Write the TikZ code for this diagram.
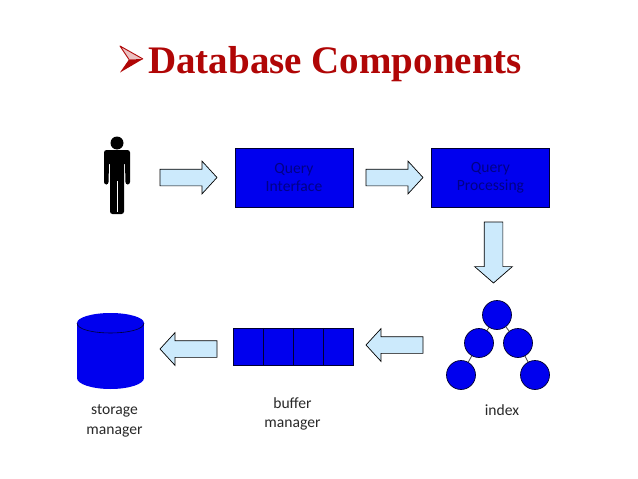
\documentclass[tikz,border=0pt]{standalone}
\usepackage{fontspec}
\setmainfont{Carlito}
\newfontfamily\titlefont{Liberation Serif}
\usetikzlibrary{shapes.arrows,shapes.geometric}
\definecolor{blockblue}{RGB}{0,0,238}
\definecolor{edgenavy}{RGB}{0,0,50}
\definecolor{arrowfill}{RGB}{204,234,252}
\definecolor{titlered}{RGB}{176,6,6}
\definecolor{labelgrey}{RGB}{40,40,40}
\definecolor{dimtext}{RGB}{0,0,135}
\tikzset{
  blockarrow/.style={single arrow,draw=black,fill=arrowfill,line width=0.7pt,
    minimum width=32pt,minimum height=57pt,inner sep=8pt,
    single arrow head extend=8pt,single arrow tip angle=95,outer sep=0pt,anchor=tip},
  qbox/.style={draw=edgenavy,fill=blockblue,line width=0.8pt,minimum width=118pt,minimum height=59pt,
    align=center,font=\fontsize{15.6}{18}\selectfont,text=dimtext,inner sep=0pt,outer sep=0pt},
  cell/.style={draw=edgenavy,fill=blockblue,line width=0.9pt,minimum width=30pt,minimum height=37pt,inner sep=0pt,outer sep=0pt},
  treenode/.style={circle,draw=edgenavy,fill=blockblue,line width=0.7pt,minimum size=29pt,inner sep=0pt,outer sep=0pt},
  treeedge/.style={draw=black!75,line width=0.8pt},
  caption/.style={align=center,font=\fontsize{15.6}{19.5}\selectfont,text=labelgrey,inner sep=0pt}
}
\begin{document}
\begin{tikzpicture}[x=1pt,y=-1pt]
\useasboundingbox (0,0) rectangle (638,479);
% title
\fill[titlered!25] (120,46) -- (143,59) -- (129,59.5) -- cycle;
\fill[titlered] (143,59) -- (120,72.5) -- (129,59.5) -- cycle;
\draw[titlered,line width=0.9pt,line join=round] (129,59.5) -- (120,46) -- (143,59);
\node[anchor=base west,inner sep=0pt,text=titlered,font=\titlefont\bfseries\fontsize{39}{42}\selectfont] (title) at (148,73) {Database Components};
% person
\fill[black] (117,143) circle (6.5);
\fill[black,rounded corners=2.5pt] (104,184.5) -- (104,150) -- (130,150) -- (130,184.5) -- (125.5,184.5) -- (125,162) -- (124,162) -- (124,214) -- (110,214) -- (110,162) -- (109,162) -- (108.5,184.5) -- cycle;
\draw[white,line width=0.9pt] (117,181) -- (117,212);
% top row
\node[blockarrow] (a1) at (217,177.5) {};
\node[qbox] (qi) at (294,177.5) {\raisebox{-1.5pt}{\parbox{118pt}{\centering Query\\Interface}}};
\node[blockarrow] (a2) at (423,177.5) {};
\node[qbox] (qp) at (490.5,177.5) {\raisebox{-1.5pt}{\parbox{117pt}{\centering Query\\Processing}}};
\node[blockarrow,shape border rotate=270,minimum height=61pt,minimum width=37pt,inner sep=9pt,single arrow head extend=9.5pt,single arrow tip angle=98] (a3) at (493.5,283) {};
% tree
\node[treenode] (t0) at (497,315) {};
\node[treenode] (t1) at (479,343) {};
\node[treenode] (t2) at (518,343) {};
\node[treenode] (t3) at (461,375) {};
\node[treenode] (t4) at (535,375) {};
\draw[treeedge] (t0) -- (t1);
\draw[treeedge] (t0) -- (t2);
\draw[treeedge] (t1) -- (t3);
\draw[treeedge] (t2) -- (t4);
\node[caption] (lidx) at (502,410) {index};
% bottom row
\node[blockarrow,shape border rotate=180] (a4) at (366,345) {};
\node[cell] (c4) at (338,346.5) {};
\node[cell] (c3) at (308,346.5) {};
\node[cell] (c2) at (278,346.5) {};
\node[cell] (c1) at (248,346.5) {};
\node[caption] (lbuf) at (292.5,414) {buffer\\manager};
\node[blockarrow,shape border rotate=180] (a5) at (160,349) {};
% storage cylinder
\fill[blockblue] (110.5,378) ellipse[x radius=33.5,y radius=11];
\fill[blockblue] (77,323) rectangle (144,378);
\fill[blockblue] (110.5,323) ellipse[x radius=33.5,y radius=10];
\draw[edgenavy,line width=0.6pt] (77,323) .. controls (77,336.3) and (144,336.3) .. (144,323);
\node[caption] (lsto) at (114.5,421) {storage\\manager};
\end{tikzpicture}
\end{document}
